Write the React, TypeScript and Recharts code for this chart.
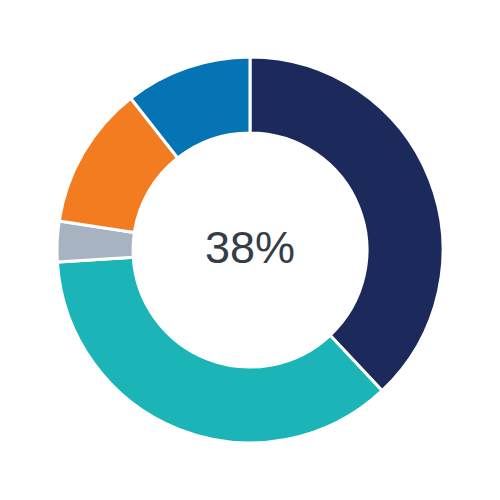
import React from "react";
import { PieChart, Pie, Cell, Label } from "recharts";

const categories = ["A", "B", "C", "D", "E"];
const values = [38, 36, 3.4, 12, 10.6];
const colors = ["#1b2a5a", "#1bb5b7", "#a8b3c1", "#f47c20", "#0474b4"];
const centerLabel = "38%";

const data = categories.map((name, i) => ({ name, value: values[i] }));

const CenterText = (props: any) => {
  const vb = props.viewBox || {};
  const cx = vb.cx ?? 250;
  const cy = vb.cy ?? 250;
  return (
    <text
      x={cx}
      y={cy + 13}
      textAnchor="middle"
      fill="#353d47"
      style={{ fontFamily: "'Liberation Sans', Arial, sans-serif", fontSize: 45 }}
    >
      {centerLabel}
    </text>
  );
};

export default function App() {
  return (
    <div style={{ position: "absolute", left: 0, top: 0, width: 500, height: 500, background: "#fff" }}>
      <PieChart width={500} height={500} margin={{ top: 0, right: 0, bottom: 0, left: 0 }}>
        <Pie
          data={data}
          dataKey="value"
          nameKey="name"
          cx={250}
          cy={250}
          innerRadius={117}
          outerRadius={193}
          startAngle={90}
          endAngle={-270}
          stroke="#ffffff"
          strokeWidth={3}
          isAnimationActive={false}
        >
          {data.map((d, i) => (
            <Cell key={d.name} fill={colors[i]} />
          ))}
          <Label position="center" content={<CenterText />} />
        </Pie>
      </PieChart>
    </div>
  );
}
